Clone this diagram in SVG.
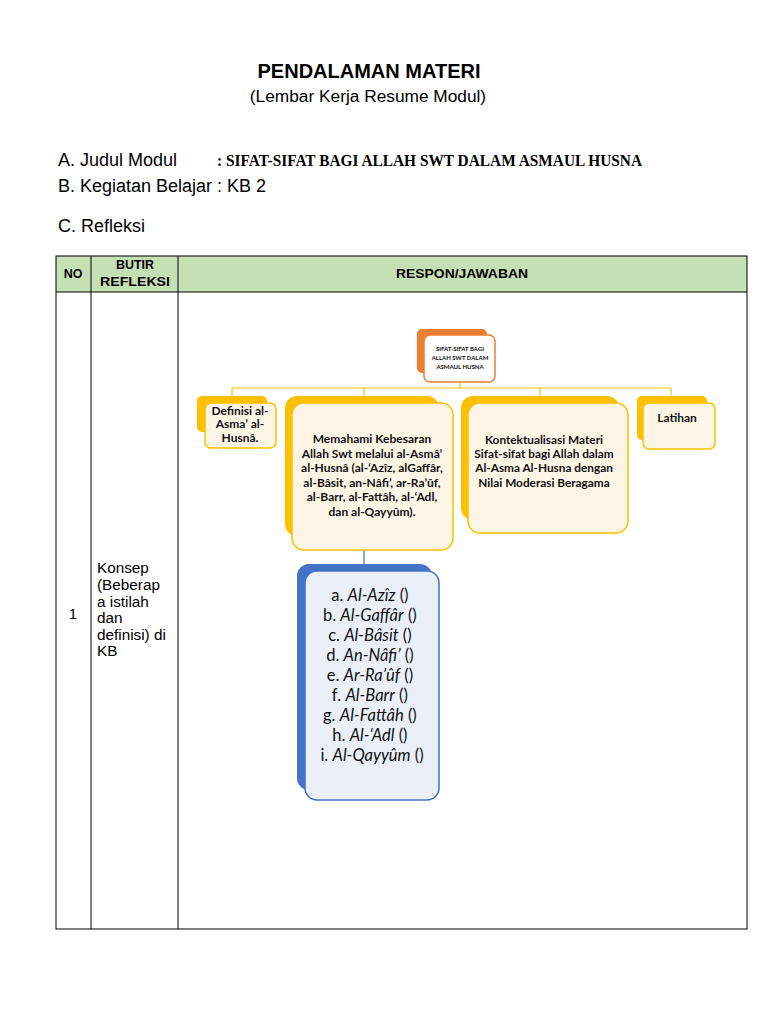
<svg xmlns="http://www.w3.org/2000/svg" width="768" height="1024" viewBox="0 0 768 1024">
<style>
.ar{font-family:"Liberation Sans",Arial,sans-serif;fill:#000}
.cal{font-family:Lato,"Open Sans",sans-serif;fill:#111;font-weight:bold}
.cl{font-family:Lato,"Open Sans",sans-serif;fill:#111}
.grid{stroke:#000;stroke-width:1;fill:none}
.yb{fill:#ffc000}
.yf{fill:#fdf6e6;stroke:#ffc000;stroke-width:1.5}
.conn{stroke:#ffc000;stroke-width:1.2;fill:none}
</style>
<rect width="768" height="1024" fill="#fff"/>
<text class="ar" x="369" y="78" font-size="20" font-weight="bold" text-anchor="middle">PENDALAMAN MATERI</text>
<text class="ar" x="368" y="102" font-size="17.3" text-anchor="middle">(Lembar Kerja Resume Modul)</text>
<text class="ar" x="58" y="166" font-size="18">A. Judul Modul</text>
<text x="217" y="166" font-size="16" font-weight="bold" font-family="Liberation Serif,serif" textLength="425" lengthAdjust="spacingAndGlyphs">: SIFAT-SIFAT BAGI ALLAH SWT DALAM ASMAUL HUSNA</text>
<text class="ar" x="58" y="192" font-size="18">B. Kegiatan Belajar : KB 2</text>
<text class="ar" x="58" y="232" font-size="18">C. Refleksi</text>
<g id="table">
<rect x="56" y="256" width="691" height="36" fill="#c5e0b4"/>
<rect x="56" y="256" width="691" height="673" class="grid"/>
<line x1="56" y1="292" x2="747" y2="292" class="grid"/>
<line x1="91" y1="256" x2="91" y2="929" class="grid"/>
<line x1="178" y1="256" x2="178" y2="929" class="grid"/>
<text class="ar" x="73" y="278" font-size="12.5" font-weight="bold" text-anchor="middle">NO</text>
<text class="ar" x="135" y="269" font-size="12.5" font-weight="bold" text-anchor="middle">BUTIR</text>
<text class="ar" x="135" y="286" font-size="12.5" font-weight="bold" text-anchor="middle" textLength="70" lengthAdjust="spacingAndGlyphs">REFLEKSI</text>
<text class="ar" x="462" y="278" font-size="13" font-weight="bold" text-anchor="middle" textLength="132" lengthAdjust="spacingAndGlyphs">RESPON/JAWABAN</text>
<text class="ar" x="73" y="619" font-size="15" text-anchor="middle">1</text>
<text class="ar" font-size="15.3"><tspan x="97" y="573">Konsep</tspan><tspan x="97" y="590">(Beberap</tspan><tspan x="97" y="607">a istilah</tspan><tspan x="97" y="623">dan</tspan><tspan x="97" y="640">definisi) di</tspan><tspan x="97" y="656">KB</tspan></text>
</g>
<g id="connectors">
<line x1="460" y1="382" x2="460" y2="388" class="conn"/>
<line x1="232" y1="388" x2="671" y2="388" class="conn"/>
<line x1="232" y1="388" x2="232" y2="397" class="conn"/>
<line x1="364" y1="388" x2="364" y2="397" class="conn"/>
<line x1="540" y1="388" x2="540" y2="397" class="conn"/>
<line x1="671" y1="388" x2="671" y2="397" class="conn"/>
<line x1="364" y1="550" x2="364" y2="565" stroke="#4472c4" stroke-width="1.2"/>
</g>
<g id="root">
<rect x="417" y="329" width="70" height="44" rx="5" fill="#ed7d31"/>
<rect x="424" y="335" width="71" height="47" rx="6" fill="#fff" stroke="#ed7d31" stroke-width="1.5"/>
<text class="cal" font-size="6" text-anchor="middle"><tspan x="460" y="351">SIFAT-SIFAT BAGI</tspan><tspan x="460" y="360">ALLAH SWT DALAM</tspan><tspan x="460" y="369">ASMAUL HUSNA</tspan></text>
</g>
<g id="definisi">
<rect x="197" y="396" width="70" height="36" rx="5" class="yb"/>
<rect x="205" y="403" width="71" height="45" rx="6" class="yf"/>
<text class="cal" font-size="12" text-anchor="middle"><tspan x="240" y="415">Definisi al-</tspan><tspan x="240" y="428">Asma’ al-</tspan><tspan x="240" y="442">Husnâ.</tspan></text>
</g>
<g id="memahami">
<rect x="285" y="396" width="154" height="140" rx="12" class="yb"/>
<rect x="292" y="403" width="161" height="147" rx="12" class="yf"/>
<text class="cal" font-size="12" text-anchor="middle"><tspan x="372" y="443">Memahami Kebesaran</tspan><tspan x="372" y="458">Allah Swt melalui al-Asmâ’</tspan><tspan x="372" y="472">al-Husnâ (al-‘Azîz, alGaffâr,</tspan><tspan x="372" y="487">al-Bâsit, an-Nâfi’, ar-Ra’ûf,</tspan><tspan x="372" y="501">al-Barr, al-Fattâh, al-‘Adl,</tspan><tspan x="372" y="516">dan al-Qayyûm).</tspan></text>
</g>
<g id="kontekstualisasi">
<rect x="461" y="396" width="158" height="124" rx="12" class="yb"/>
<rect x="468" y="403" width="160" height="130" rx="12" class="yf"/>
<text class="cal" font-size="11.8" text-anchor="middle"><tspan x="544" y="444">Kontektualisasi Materi</tspan><tspan x="544" y="458">Sifat-sifat bagi Allah dalam</tspan><tspan x="544" y="472">Al-Asma Al-Husna dengan</tspan><tspan x="544" y="487">Nilai Moderasi Beragama</tspan></text>
</g>
<g id="latihan">
<rect x="637" y="396" width="70" height="44" rx="5" class="yb"/>
<rect x="643" y="403" width="72" height="46" rx="6" class="yf"/>
<text class="cal" font-size="12" text-anchor="middle" x="677" y="422">Latihan</text>
</g>
<g id="list">
<rect x="297" y="564" width="135" height="226" rx="12" fill="#4472c4"/>
<rect x="305" y="571" width="134" height="229" rx="12" fill="#eaeff8" stroke="#4472c4" stroke-width="1.5"/>
<text class="cl" font-size="16.5" text-anchor="middle">
<tspan x="372" y="601">a. <tspan font-style="italic">Al-Azîz</tspan> ()</tspan>
<tspan x="372" y="621">b. <tspan font-style="italic">Al-Gaffâr</tspan> ()</tspan>
<tspan x="372" y="641">c. <tspan font-style="italic">Al-Bâsit</tspan> ()</tspan>
<tspan x="372" y="661">d. <tspan font-style="italic">An-Nâfi’</tspan> ()</tspan>
<tspan x="372" y="681">e. <tspan font-style="italic">Ar-Ra’ûf</tspan> ()</tspan>
<tspan x="372" y="701">f. <tspan font-style="italic">Al-Barr</tspan> ()</tspan>
<tspan x="372" y="721">g. <tspan font-style="italic">Al-Fattâh</tspan> ()</tspan>
<tspan x="372" y="741">h. <tspan font-style="italic">Al-‘Adl</tspan> ()</tspan>
<tspan x="372" y="761">i. <tspan font-style="italic">Al-Qayyûm</tspan> ()</tspan>
</text>
</g>
</svg>
